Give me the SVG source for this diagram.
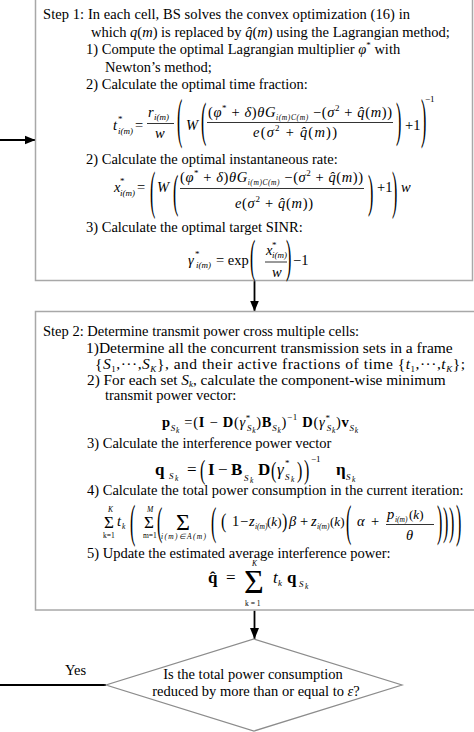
<svg xmlns="http://www.w3.org/2000/svg" width="474" height="732" viewBox="0 0 474 732">
<defs>
<marker id="ah" markerUnits="userSpaceOnUse" markerWidth="12" markerHeight="10" refX="11" refY="5" orient="auto"><path d="M0,0.5 L11,5 L0,9.5 Z" fill="#000"/></marker>
<style>
.t{font-family:"Liberation Serif","Times New Roman",serif;font-size:14.5px;fill:#000}
.i{font-style:italic}
.b{font-weight:bold}
.s{font-size:9px}
.ss{font-size:7.5px}
.p{font-size:16px}
.m{font-size:13px}
.box{fill:#fff;stroke:#a8a8a8;stroke-width:1.5}
.dia{fill:#fff;stroke:#8c8c8c;stroke-width:1.2}
.c{stroke:#000;stroke-width:1.8;fill:none}
.fb{stroke:#000;stroke-width:0.8}
</style>
</defs>
<rect width="474" height="732" fill="#fff"/>

<g id="connectors">
<line class="c" x1="0" y1="140" x2="35.5" y2="140" marker-end="url(#ah)"/>
<line class="c" x1="254.5" y1="281" x2="254.5" y2="311.5" marker-end="url(#ah)"/>
<line class="c" x1="254.5" y1="610.5" x2="254.5" y2="639" marker-end="url(#ah)"/>
<line class="c" x1="0" y1="685" x2="106" y2="685"/>
<text class="t" x="65" y="675">Yes</text>
</g>

<g id="step1">
<rect class="box" x="35.5" y="-2" width="437" height="282.5"/>
<text class="t" x="43" y="19" textLength="367">Step 1: In each cell,  BS solves the convex optimization (16) in</text>
<text class="t" x="91" y="36.5">which <tspan class="i">q</tspan>(<tspan class="i">m</tspan>) is replaced by <tspan class="i">q̂</tspan>(<tspan class="i">m</tspan>) using the Lagrangian method;</text>
<text class="t" x="86" y="54">1) Compute the optimal Lagrangian multiplier <tspan class="i">φ</tspan><tspan class="s" dy="-6">*</tspan><tspan dy="6">  with</tspan></text>
<text class="t" x="105" y="71.5">Newton’s method;</text>
<text class="t" x="86" y="89">2) Calculate the optimal time fraction:</text>

<!-- t* formula -->
<text class="t i" x="113" y="130">t</text>
<text class="t s" x="118" y="122">*</text>
<text class="t s i" x="118" y="134">i(m)</text>
<text class="t" x="135" y="130">=</text>
<text class="t i" x="148" y="117">r</text>
<text class="t s i" x="154" y="120">i(m)</text>
<line class="fb" x1="147" y1="123.5" x2="174" y2="123.5"/>
<text class="t i" x="155" y="138">w</text>
<text class="t p" transform="translate(177,137.2) scale(1,3.38)">(</text>
<text class="t i" x="186" y="130">W</text>
<text class="t p" transform="translate(201,136.2) scale(1,3.02)">(</text>
<text class="t" x="208" y="117" textLength="184">(<tspan class="i">φ</tspan><tspan class="s" dy="-6">*</tspan><tspan dy="6"> + </tspan><tspan class="i">δ</tspan>)<tspan class="i">θG</tspan><tspan class="ss i" dy="3">i(m)C(m)</tspan><tspan dy="-3"> −(</tspan><tspan class="i">σ</tspan><tspan class="s" dy="-6">2</tspan><tspan dy="6"> + </tspan><tspan class="i">q̂</tspan>(<tspan class="i">m</tspan>))</text>
<line class="fb" x1="207" y1="122.5" x2="393" y2="122.5"/>
<text class="t" x="253" y="137" textLength="84"><tspan class="i">e</tspan>(<tspan class="i">σ</tspan><tspan class="s" dy="-6">2</tspan><tspan dy="6"> + </tspan><tspan class="i">q̂</tspan>(<tspan class="i">m</tspan>))</text>
<text class="t p" transform="translate(396,136.2) scale(1,3.02)">)</text>
<text class="t" x="405" y="130">+1</text>
<text class="t p" transform="translate(421,137.2) scale(1,3.38)">)</text>
<text class="t s" x="425" y="102">−1</text>

<text class="t" x="86" y="164">2) Calculate the optimal instantaneous rate:</text>

<!-- x* formula -->
<text class="t i" x="114" y="192">x</text>
<text class="t s" x="120" y="184">*</text>
<text class="t s i" x="120" y="196">i(m)</text>
<text class="t" x="137" y="192">=</text>
<text class="t p" transform="translate(150,208.4) scale(1,3.31)">(</text>
<text class="t i" x="157" y="192">W</text>
<text class="t p" transform="translate(173,207.4) scale(1,2.95)">(</text>
<text class="t" x="180" y="182" textLength="183">(<tspan class="i">φ</tspan><tspan class="s" dy="-6">*</tspan><tspan dy="6"> + </tspan><tspan class="i">δ</tspan>)<tspan class="i">θG</tspan><tspan class="ss i" dy="3">i(m)C(m)</tspan><tspan dy="-3"> −(</tspan><tspan class="i">σ</tspan><tspan class="s" dy="-6">2</tspan><tspan dy="6"> + </tspan><tspan class="i">q̂</tspan>(<tspan class="i">m</tspan>))</text>
<line class="fb" x1="180" y1="188.5" x2="364" y2="188.5"/>
<text class="t" x="235" y="208" textLength="78"><tspan class="i">e</tspan>(<tspan class="i">σ</tspan><tspan class="s" dy="-6">2</tspan><tspan dy="6"> + </tspan><tspan class="i">q̂</tspan>(<tspan class="i">m</tspan>))</text>
<text class="t p" transform="translate(368,207.4) scale(1,2.95)">)</text>
<text class="t" x="377" y="192">+1</text>
<text class="t p" transform="translate(392,208.4) scale(1,3.31)">)</text>
<text class="t i" x="401" y="192">w</text>

<text class="t" x="86" y="231.5">3) Calculate the optimal target SINR:</text>

<!-- gamma formula -->
<text class="t i" x="188" y="265">γ</text>
<text class="t s" x="195" y="257">*</text>
<text class="t s i" x="196" y="268">i(m)</text>
<text class="t" x="216" y="265">= exp</text>
<text class="t p" transform="translate(250,271.7) scale(1,2.88)">(</text>
<text class="t i" x="266" y="255">x</text>
<text class="t s" x="272" y="248">*</text>
<text class="t s i" x="272" y="258">i(m)</text>
<line class="fb" x1="265" y1="262" x2="287" y2="262"/>
<text class="t i" x="272" y="277">w</text>
<text class="t p" transform="translate(286,271.7) scale(1,2.88)">)</text>
<text class="t" x="293" y="265">−1</text>
</g>

<g id="step2">
<rect class="box" x="35.5" y="311.5" width="445" height="298.5"/>
<text class="t" x="43" y="336">Step 2: Determine transmit power cross multiple cells:</text>
<text class="t" x="86" y="353" style="font-size:15.5px">1)Determine all the concurrent transmission sets in a frame</text>
<text class="t" x="95" y="369" style="font-size:15.5px" textLength="370">{<tspan class="i">S</tspan><tspan class="s" dy="3">1</tspan><tspan dy="-3">,···,</tspan><tspan class="i">S</tspan><tspan class="s i" dy="3">K</tspan><tspan dy="-3">},  and their active fractions of time {</tspan><tspan class="i">t</tspan><tspan class="s" dy="3">1</tspan><tspan dy="-3">,···,</tspan><tspan class="i">t</tspan><tspan class="s i" dy="3">K</tspan><tspan dy="-3">};</tspan></text>
<text class="t" x="87" y="385" style="font-size:15.3px">2) For each set <tspan class="i">S</tspan><tspan class="s i" dy="2">k</tspan><tspan dy="-2">, calculate the component-wise minimum</tspan></text>
<text class="t" x="105" y="400">transmit power vector:</text>

<!-- p formula -->
<text class="t" x="162" y="427" textLength="196"><tspan class="b">p</tspan><tspan class="s i" dy="4">S</tspan><tspan class="ss i" dy="2">k</tspan><tspan dy="-6"> =(</tspan><tspan class="b">I</tspan> − <tspan class="b">D</tspan>(<tspan class="i">γ</tspan><tspan class="s" dy="-6">*</tspan><tspan class="s i" dx="-4" dy="10">S</tspan><tspan class="ss i" dy="2">k</tspan><tspan dy="-6">)</tspan><tspan class="b">B</tspan><tspan class="s i" dy="4">S</tspan><tspan class="ss i" dy="2">k</tspan><tspan dy="-6">)</tspan><tspan class="s" dy="-7">−1</tspan><tspan dy="7"> </tspan><tspan class="b">D</tspan>(<tspan class="i">γ</tspan><tspan class="s" dy="-6">*</tspan><tspan class="s i" dx="-4" dy="10">S</tspan><tspan class="ss i" dy="2">k</tspan><tspan dy="-6">)</tspan><tspan class="b">v</tspan><tspan class="s i" dy="4">S</tspan><tspan class="ss i" dy="2">k</tspan></text>

<text class="t" x="87" y="448">3) Calculate the interference power vector</text>

<!-- q formula -->
<text class="t b" x="155" y="475" style="font-size:17px">q</text>
<text class="t s i" x="169" y="479">S</text>
<text class="t ss i" x="175" y="481">k</text>
<text class="t" x="187" y="475" style="font-size:17px">=</text>
<text class="t p" transform="translate(200,479) scale(1,1.65)">(</text>
<text class="t b" x="208" y="475" style="font-size:17px">I</text>
<text class="t" x="218" y="475" style="font-size:17px">−</text>
<text class="t b" x="231" y="475" style="font-size:17px">B</text>
<text class="t s i" x="244" y="481">S</text>
<text class="t ss i" x="250" y="483">k</text>
<text class="t b" x="258" y="475" style="font-size:17px">D</text>
<text class="t p" transform="translate(271,478) scale(1,1.45)">(</text>
<text class="t i" x="277" y="475" style="font-size:17px">γ</text>
<text class="t s" x="285" y="466">*</text>
<text class="t s i" x="285" y="480">S</text>
<text class="t ss i" x="291" y="482">k</text>
<text class="t p" transform="translate(297,478) scale(1,1.45)">)</text>
<text class="t p" transform="translate(304,479) scale(1,1.65)">)</text>
<text class="t s" x="311" y="462">−1</text>
<text class="t b" x="336" y="475" style="font-size:17px">η</text>
<text class="t s i" x="346" y="480">S</text>
<text class="t ss i" x="352" y="482">k</text>

<text class="t" x="87" y="495">4) Calculate the total power consumption in the current iteration:</text>

<!-- sum formula -->
<text class="t ss i" x="108" y="512">K</text>
<text class="t" x="104" y="528" style="font-size:17px">Σ</text>
<text class="t ss" x="103" y="538">k=1</text>
<text class="t i" x="117" y="526">t</text>
<text class="t ss i" x="122" y="529">k</text>
<text class="t p" transform="translate(130,536.7) scale(1,2.88)">(</text>
<text class="t ss i" x="147" y="512">M</text>
<text class="t" x="144" y="528" style="font-size:17px">Σ</text>
<text class="t ss" x="143" y="538">m=1</text>
<text class="t p" transform="translate(157,535) scale(1,2.45)">(</text>
<text class="t" x="176" y="530" style="font-size:24px">Σ</text>
<text class="t ss i" x="161" y="539" textLength="45">i(m)∈A(m)</text>
<text class="t p" transform="translate(211,535) scale(1,2.45)">(</text>
<text class="t p" transform="translate(221,527.5) scale(1,1.37)">(</text>
<text class="t" x="232" y="526">1</text>
<text class="t" x="240" y="526">−</text>
<text class="t i" x="249" y="526">z</text>
<text class="t ss i" x="255" y="529">i(m)</text>
<text class="t m" x="267" y="526">(<tspan class="i">k</tspan>)</text>
<text class="t p" transform="translate(282,527.5) scale(1,1.37)">)</text>
<text class="t i" x="289" y="526">β</text>
<text class="t" x="300" y="526">+</text>
<text class="t i" x="311" y="526">z</text>
<text class="t ss i" x="317" y="529">i(m)</text>
<text class="t m" x="330" y="526">(<tspan class="i">k</tspan>)</text>
<text class="t p" transform="translate(346,536) scale(1,2.73)">(</text>
<text class="t i" x="357" y="526">α</text>
<text class="t" x="371" y="526">+</text>
<text class="t i" x="387" y="519">p</text>
<text class="t ss i" x="395" y="522">i(m)</text>
<text class="t m" x="409" y="519">(<tspan class="i">k</tspan>)</text>
<line class="fb" x1="386" y1="524.5" x2="434" y2="524.5"/>
<text class="t i" x="406" y="540">θ</text>
<text class="t p" transform="translate(437,536) scale(1,2.73)">)</text>
<text class="t p" transform="translate(443,535) scale(1,2.45)">)</text>
<text class="t p" transform="translate(449,535) scale(1,2.45)">)</text>
<text class="t p" transform="translate(456,536.7) scale(1,2.88)">)</text>

<text class="t" x="87" y="558">5) Update the estimated average interference power:</text>

<!-- q-hat formula -->
<text class="t b" x="208" y="583" style="font-size:17px">q̂</text>
<text class="t" x="226" y="583" style="font-size:17px">=</text>
<text class="t ss i" x="252" y="566">K</text>
<text class="t" x="244" y="593" style="font-size:34px">Σ</text>
<text class="t ss" x="245" y="606">k = 1</text>
<text class="t i" x="273" y="583" style="font-size:17px">t</text>
<text class="t s i" x="278" y="586">k</text>
<text class="t b" x="287" y="583" style="font-size:17px">q</text>
<text class="t s i" x="299" y="587">S</text>
<text class="t ss i" x="305" y="589">k</text>
</g>

<g id="decision">
<polygon class="dia" points="254,639 402,685 254,731 106,685"/>
<text class="t" x="253" y="679" text-anchor="middle">Is the total power consumption</text>
<text class="t" x="256" y="696" text-anchor="middle">reduced by more than or equal to <tspan class="i">ε</tspan>?</text>
</g>
</svg>
